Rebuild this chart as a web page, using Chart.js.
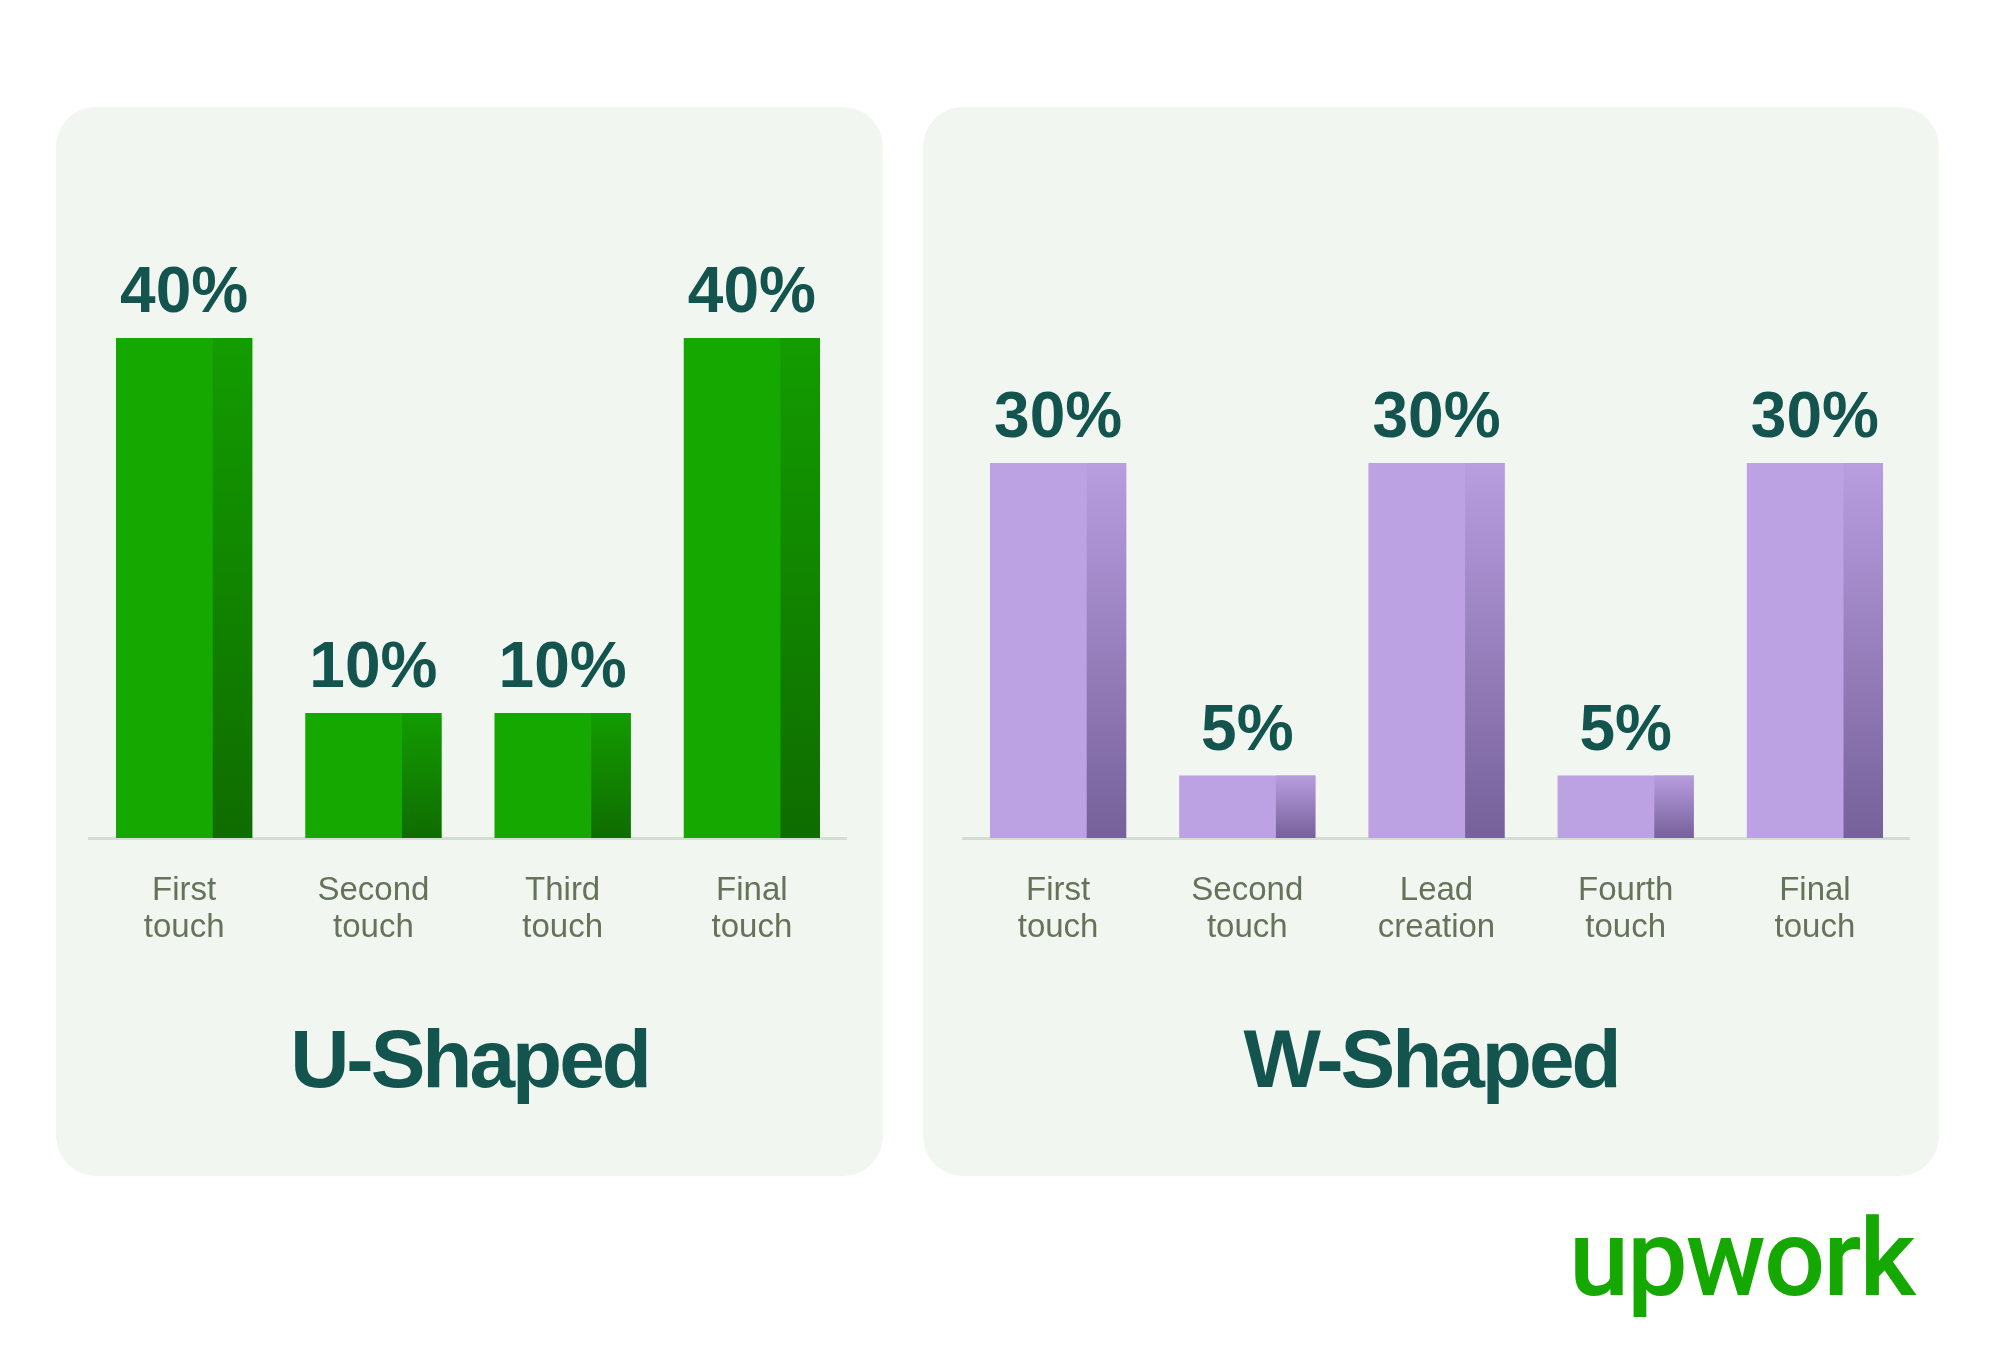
<!DOCTYPE html>
<html>
<head>
<meta charset="utf-8">
<script src="https://cdn.jsdelivr.net/npm/chart.js@4.4.1/dist/chart.umd.min.js"></script>
<style>
  html, body { margin: 0; padding: 0; background: #ffffff; }
  body { width: 2000px; height: 1360px; position: relative; overflow: hidden; font-family: "Liberation Sans", Arial, sans-serif; }
  .panel { position: absolute; top: 107px; height: 1069px; background: #f1f6f1; border-radius: 40px; }
  #panelU { left: 56px; width: 827px; }
  #panelW { left: 923px; width: 1016px; }
  .chart-box { position: absolute; left: 0; top: 0; width: 100%; height: 860px; }
  .title { position: absolute; left: 0; width: 100%; top: 911px; text-align: center; font-weight: bold; font-size: 82px; line-height: 82px; letter-spacing: -3px; color: #13544e; }
  .logo { position: absolute; left: 1569px; top: 1204px; font-family: Roboto, sans-serif; font-weight: 500; font-size: 108px; line-height: 108px; letter-spacing: -2px; color: #14a800; }
</style>
</head>
<body>
<div class="panel" id="panelU">
  <div class="chart-box"><canvas id="chartU"></canvas></div>
  <div class="title">U-Shaped</div>
</div>
<div class="panel" id="panelW">
  <div class="chart-box"><canvas id="chartW"></canvas></div>
  <div class="title">W-Shaped</div>
</div>
<div class="logo">upwork</div>

<script>
// datos de los dos graficos
const uLabels = [["First", "touch"], ["Second", "touch"], ["Third", "touch"], ["Final", "touch"]];
const uValues = [40, 10, 10, 40];
const wLabels = [["First", "touch"], ["Second", "touch"], ["Lead", "creation"], ["Fourth", "touch"], ["Final", "touch"]];
const wValues = [30, 5, 30, 5, 30];
const yMax = 50;

// franja oscura a la derecha de cada barra + etiqueta de porcentaje
const barDecor = {
  id: "barDecor",
  afterDatasetsDraw(chart, args, opts) {
    const ctx = chart.ctx;
    const meta = chart.getDatasetMeta(0);
    const ds = chart.data.datasets[0];
    meta.data.forEach((bar, i) => {
      const p = bar.getProps(["x", "y", "base", "width"], true);
      const left = p.x - p.width / 2;
      const stripX = left + p.width * 0.71;
      const stripW = p.x + p.width / 2 - stripX;
      const g = ctx.createLinearGradient(0, p.y, 0, p.base);
      g.addColorStop(0, opts.stripTop);
      g.addColorStop(1, opts.stripBottom);
      ctx.save();
      ctx.fillStyle = g;
      ctx.fillRect(stripX, p.y, stripW, p.base - p.y);
      ctx.fillStyle = "#13544e";
      ctx.font = "bold 64px 'Liberation Sans'";
      ctx.textAlign = "center";
      ctx.textBaseline = "alphabetic";
      ctx.fillText(ds.data[i] + "%", p.x, p.y - 26);
      ctx.restore();
    });
  }
};

function makeChart(id, labels, values, color, stripTop, stripBottom, pad) {
  return new Chart(document.getElementById(id), {
    type: "bar",
    data: {
      labels: labels,
      datasets: [{
        data: values,
        backgroundColor: color,
        borderWidth: 0,
        categoryPercentage: 0.72,
        barPercentage: 1
      }]
    },
    options: {
      responsive: true,
      maintainAspectRatio: false,
      animation: false,
      layout: { padding: pad },
      plugins: {
        legend: { display: false },
        tooltip: { enabled: false },
        barDecor: { stripTop: stripTop, stripBottom: stripBottom }
      },
      scales: {
        x: {
          grid: { display: false, drawTicks: false },
          border: { display: true, color: "#d4dfd4", width: 3 },
          ticks: {
            color: "#667259",
            font: { family: "Liberation Sans", size: 33, lineHeight: 1.1 },
            padding: 35,
            maxRotation: 0,
            autoSkip: false
          },
          afterFit(scale) { scale.height = 129; }
        },
        y: { display: false, min: 0, max: yMax }
      }
    },
    plugins: [barDecor]
  });
}

makeChart("chartU", uLabels, uValues, "#15a800", "#139c00", "#0f6c00",
  { left: 33.5, right: 36.5, top: 106, bottom: 0 });
makeChart("chartW", wLabels, wValues, "#bca1e3", "#b89ddf", "#76619a",
  { left: 40.5, right: 29.5, top: 106, bottom: 0 });
</script>
</body>
</html>
